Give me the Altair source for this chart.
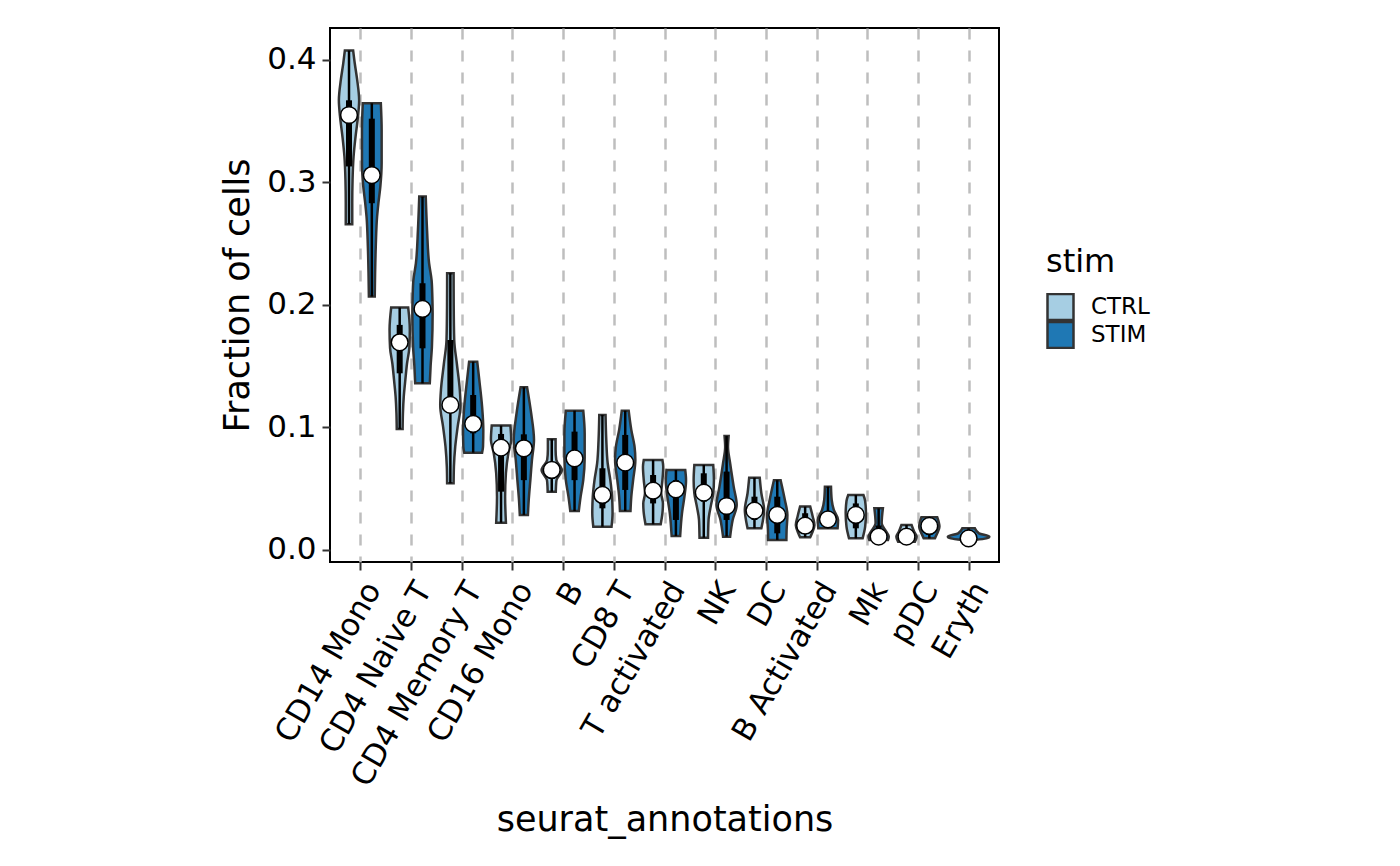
import json
import altair as alt
import pandas as pd

categories = ["CD14 Mono", "CD4 Naive T", "CD4 Memory T", "CD16 Mono", "B", "CD8 T",
              "T activated", "NK", "DC", "B Activated", "Mk", "pDC", "Eryth"]
groups = ["CTRL", "STIM"]
colors = ["#a6cee3", "#1f78b4"]

# ---- CTRL (no Eryth cells) ----
ctrl_median = [0.355, 0.1695, 0.1184, 0.0835, 0.0653, 0.0449, 0.0484, 0.0468, 0.0321, 0.0198, 0.0286, 0.0109]
ctrl_q1 = [0.313, 0.1442, 0.1116, 0.0476, 0.0599, 0.034, 0.038, 0.0394, 0.0245, 0.0136, 0.0177, 0.009]
ctrl_q3 = [0.367, 0.1837, 0.1714, 0.0947, 0.0708, 0.0667, 0.0612, 0.0626, 0.0435, 0.030, 0.038, 0.015]
ctrl_levels = [
    [0.2659, 0.283, 0.302, 0.321, 0.337, 0.354, 0.367, 0.384, 0.397, 0.4076],
    [0.0988, 0.1116, 0.125, 0.139, 0.152, 0.165, 0.18, 0.1978],
    [0.0544, 0.068, 0.0843, 0.1007, 0.118, 0.1306, 0.152, 0.1714, 0.20, 0.2259],
    [0.0223, 0.0435, 0.0626, 0.079, 0.09, 0.1015],
    [0.0476, 0.052, 0.057, 0.0653, 0.0735, 0.082, 0.0904],
    [0.019, 0.03, 0.0435, 0.057, 0.0708, 0.09, 0.1102],
    [0.021, 0.03, 0.038, 0.0463, 0.057, 0.068, 0.0735],
    [0.010, 0.0245, 0.0354, 0.0463, 0.057, 0.0694],
    [0.0177, 0.0218, 0.0327, 0.0463, 0.059],
    [0.0104, 0.0136, 0.0204, 0.0272, 0.0354],
    [0.0095, 0.019, 0.030, 0.040, 0.0449],
    [0.0068, 0.0109, 0.015, 0.0204],
]
ctrl_widths = [
    [0.32, 0.32, 0.35, 0.45, 0.64, 0.89, 1.0, 0.8, 0.57, 0.41],
    [0.29, 0.32, 0.40, 0.56, 0.72, 0.95, 1.0, 0.84],
    [0.32, 0.35, 0.48, 0.72, 1.0, 0.93, 0.64, 0.38, 0.33, 0.32],
    [0.48, 0.40, 0.48, 0.72, 1.0, 0.92],
    [0.40, 0.42, 0.47, 1.0, 0.45, 0.38, 0.38],
    [0.90, 1.0, 0.95, 0.78, 0.52, 0.38, 0.31],
    [0.75, 0.92, 0.97, 0.80, 0.92, 1.0, 0.92],
    [0.42, 0.47, 0.68, 0.93, 1.0, 0.93],
    [0.68, 0.78, 0.95, 0.68, 0.52],
    [0.50, 0.67, 0.92, 0.75, 0.50],
    [0.67, 0.92, 1.0, 0.92, 0.75],
    [0.83, 1.0, 0.75, 0.50],
]

# ---- STIM ----
stim_median = [0.306, 0.1967, 0.103, 0.083, 0.0748, 0.0713, 0.0495, 0.0359, 0.0286, 0.025, 0.0109, 0.0196, 0.0095]
stim_q1 = [0.283, 0.1646, 0.0952, 0.057, 0.057, 0.049, 0.0245, 0.0245, 0.0136, 0.020, 0.0095, 0.015, 0.0088]
stim_q3 = [0.352, 0.2177, 0.1265, 0.0944, 0.0966, 0.0939, 0.057, 0.064, 0.0435, 0.030, 0.020, 0.023, 0.011]
stim_levels = [
    [0.2068, 0.2476, 0.272, 0.283, 0.2966, 0.3157, 0.343, 0.3646],
    [0.136, 0.15, 0.166, 0.193, 0.207, 0.22, 0.234, 0.261, 0.2884],
    [0.0794, 0.0843, 0.098, 0.117, 0.139, 0.1537],
    [0.0286, 0.0408, 0.057, 0.0735, 0.0898, 0.1116, 0.1328],
    [0.0318, 0.0435, 0.057, 0.075, 0.095, 0.1137],
    [0.0318, 0.0435, 0.057, 0.0735, 0.0843, 0.098, 0.1137],
    [0.0114, 0.030, 0.0435, 0.057, 0.0653],
    [0.0109, 0.0245, 0.0367, 0.0517, 0.0708, 0.084, 0.093],
    [0.0082, 0.0163, 0.0286, 0.0408, 0.057],
    [0.0177, 0.0245, 0.0327, 0.0408, 0.0517],
    [0.0082, 0.0109, 0.015, 0.0218, 0.034],
    [0.0095, 0.0136, 0.019, 0.0267],
    [0.0082, 0.0095, 0.0109, 0.0136, 0.0177],
]
stim_widths = [
    [0.29, 0.39, 0.52, 0.65, 0.84, 0.97, 0.97, 0.89],
    [0.72, 0.80, 0.93, 1.0, 0.97, 0.90, 0.65, 0.45, 0.32],
    [0.88, 0.97, 1.0, 0.88, 0.60, 0.40],
    [0.40, 0.48, 0.64, 0.80, 1.0, 0.72, 0.32],
    [0.42, 0.60, 0.86, 1.0, 1.0, 0.86],
    [0.52, 0.60, 0.78, 1.0, 0.92, 0.60, 0.34],
    [0.42, 0.60, 0.84, 1.0, 0.92],
    [0.35, 0.60, 1.0, 0.70, 0.35, 0.14, 0.20],
    [0.90, 0.92, 1.0, 0.75, 0.33],
    [0.95, 1.0, 0.58, 0.37, 0.30],
    [0.92, 1.0, 0.75, 0.30, 0.42],
    [0.55, 0.78, 1.0, 0.78],
    [0.30, 0.85, 1.0, 0.50, 0.30],
]

DODGE = 0.225
HALF = 0.2
HALF_SINGLE = 0.41

series = {
    "CTRL": (ctrl_median, ctrl_q1, ctrl_q3, ctrl_levels, ctrl_widths),
    "STIM": (stim_median, stim_q1, stim_q3, stim_levels, stim_widths),
}

vrows, srows = [], []
for gi, g in enumerate(groups):
    med, q1, q3, lev, wid = series[g]
    for ci in range(len(med)):
        n_groups = (1 if ci < len(ctrl_median) else 0) + 1
        if n_groups == 2:
            pos = ci + 1 + (-DODGE if g == "CTRL" else DODGE)
            half = HALF
        else:
            pos = ci + 1
            half = HALF_SINGLE
        vid = f"{g}-{categories[ci]}"
        for yv, wv in zip(lev[ci], wid[ci]):
            vrows.append({"vid": vid, "stim": g, "y": yv,
                          "xl": pos - wv * half, "xr": pos + wv * half})
        srows.append({"vid": vid, "stim": g, "pos": pos, "med": med[ci],
                      "q1": q1[ci], "q3": q3[ci],
                      "lo": lev[ci][0], "hi": lev[ci][-1]})

vdf = pd.DataFrame(vrows)
sdf = pd.DataFrame(srows)

xscale = alt.Scale(domain=[0.4, 13.6], nice=False, zero=False)
yscale = alt.Scale(domain=[-0.0098, 0.426], nice=False, zero=False)

label_expr = json.dumps(categories) + "[round(datum.value) - 1]"
xaxis = alt.Axis(
    values=list(range(1, len(categories) + 1)), labelExpr=label_expr,
    title="seurat_annotations", titleY=268, titleBaseline="alphabetic",
    labelAngle=-60, labelAlign="right", labelBaseline="top",
    labelOverlap=False, labelFlush=False, labelBound=False, labelPadding=7,
    labelLimit=0,
    grid=True, gridDash=[11, 11], gridColor="#bebebe", gridWidth=2.5,
)
yaxis = alt.Axis(
    values=[0, 0.1, 0.2, 0.3, 0.4], format=".1f", title="Fraction of cells",
    titleX=-82, titleY=267, titleBaseline="alphabetic", titleAngle=270,
    titleAlign="center", grid=False, labelPadding=6,
)

violins = alt.Chart(vdf).mark_area(
    orient="horizontal", interpolate="monotone", stroke="#333333",
    strokeWidth=2.5, opacity=1, fillOpacity=1,
).encode(
    x=alt.X("xl:Q", scale=xscale, axis=xaxis, stack=False),
    x2="xr:Q",
    y=alt.Y("y:Q", scale=yscale, axis=yaxis),
    color=alt.Color(
        "stim:N",
        scale=alt.Scale(domain=groups, range=colors),
        legend=alt.Legend(
            title="stim", orient="none", legendX=716, legendY=219, padding=0,
            titleFontSize=32, titleFontWeight="normal", titleColor="black",
            titlePadding=14, labelFontSize=23, labelColor="black",
            labelOffset=16, symbolType="square", symbolSize=676,
            symbolStrokeColor="#333333", symbolStrokeWidth=2.5,
            symbolOpacity=1, rowPadding=0, clipHeight=28,
        ),
    ),
    detail="vid:N",
)

base = alt.Chart(sdf)
whisk = base.mark_rule(color="black", strokeWidth=2.5).encode(
    x=alt.X("pos:Q", scale=xscale, axis=xaxis),
    y=alt.Y("lo:Q", scale=yscale, axis=yaxis),
    y2="hi:Q",
)
box = base.mark_rule(color="black", strokeWidth=6).encode(
    x=alt.X("pos:Q", scale=xscale, axis=xaxis),
    y=alt.Y("q1:Q", scale=yscale, axis=yaxis),
    y2="q3:Q",
)
pts = base.mark_circle(size=280, color="white", stroke="black",
                       strokeWidth=1.5, opacity=1).encode(
    x=alt.X("pos:Q", scale=xscale, axis=xaxis),
    y=alt.Y("med:Q", scale=yscale, axis=yaxis),
)

chart = alt.layer(violins, whisk, box, pts).properties(
    width=669, height=534,
    autosize=alt.AutoSizeParams(type="none"),
    padding={"left": 322, "top": 20, "right": 380, "bottom": 290},
).configure(
    font="DejaVu Sans",
).configure_view(
    stroke="black", strokeWidth=2,
).configure_axis(
    labelFontSize=31, labelColor="black", titleFontSize=35,
    titleFontWeight="normal", titleColor="black", domain=False,
    tickSize=8, tickWidth=2, tickColor="#333333",
)

chart.save("out.html", embed_options={"renderer": "svg", "actions": False})
